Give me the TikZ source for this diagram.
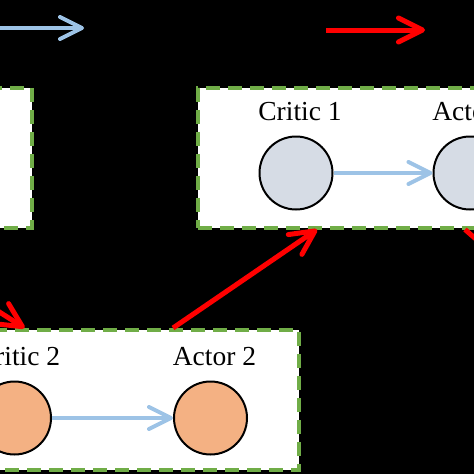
\documentclass[tikz,border=0pt]{standalone}
\usepackage{fontspec}
\setmainfont{Liberation Serif}
\usetikzlibrary{positioning, arrows.meta, calc}

\definecolor{groupgreen}{HTML}{70AD47}
\definecolor{flowblue}{HTML}{9DC3E6}
\definecolor{unitgray}{HTML}{D6DCE5}
\definecolor{unitorange}{HTML}{F4B183}

\begin{document}
\begin{tikzpicture}[x=1pt, y=-1pt,
        % Define styles for groups, agents and flows
        group/.style={draw=groupgreen, line width=4pt, dash pattern=on 14pt off 8pt, fill=white, rectangle, minimum height=140pt, inner sep=0pt},
        agent/.style={draw, line width=2pt, circle, minimum size=73pt, inner sep=0pt},
        agentone/.style={agent, fill=unitgray},
        agenttwo/.style={agent, fill=unitorange},
        tag/.style={font=\fontsize{27.5}{30}\selectfont, inner sep=0pt, text depth=0pt, xshift=4pt},
        innerflow/.style={draw=flowblue, line width=4pt, -{Straight Barb[length=22pt, width=22pt, round]}},
        outerflow/.style={draw=red, line width=5pt, -{Straight Barb[length=24pt, width=24pt, round]}}
    ]

    \useasboundingbox (0,0) rectangle (474,474);
    \clip (0,0) rectangle (474,474);
    \fill[black] (0,0) rectangle (474,474);

    % --- LEGEND ---
    \coordinate (keyAstart) at (-10,28);
    \coordinate (keyAend) at (84,28);
    \coordinate (keyBstart) at (326,30);
    \coordinate (keyBend) at (425,30);
    \draw[innerflow] (keyAstart) -- (keyAend);
    \draw[outerflow] (keyBstart) -- (keyBend);

    % --- GROUPS ---
    \node[group, minimum width=160pt] (leftbox) at (-48,157.5) {};
    \node[group, minimum width=370pt] (topbox) at (383,157.5) {};
    \node[group, minimum width=382pt] (botbox) at (108,400) {};

    % --- AGENTS ---
    % Group 1
    \node[agentone] (critA) at (296,173) {};
    \node[agentone, right=99pt of critA] (actA) {};
    \node[tag, above=15pt of critA] (critAtag) {Critic 1};
    \node[tag, above=15pt of actA] (actAtag) {Actor 1};

    % Group 2
    \node[agenttwo] (actB) at (210.5,418) {};
    \node[agenttwo, left=121pt of actB] (critB) {};
    \node[tag, above=15pt of critB] (critBtag) {Critic 2};
    \node[tag, above=15pt of actB] (actBtag) {Actor 2};

    % --- CONNECTIONS ---
    % Critic to Actor inside each group
    \draw[innerflow] (critA) -- (actA);
    \draw[innerflow] (critB) -- (actB);

    % Between groups
    \coordinate (linkout) at (botbox.north -| actB.west);
    \coordinate (linkin) at ($(topbox.south -| critA)+(21,0)$);
    \draw[outerflow] (linkout) -- (linkin);

    \coordinate (leftin) at ($(botbox.north -| critB)+(10,0)$);
    \draw[outerflow] (leftbox.south west) -- (leftin);

    \coordinate (rightout) at ($(topbox.south -| actA)+(-5,0)$);
    \coordinate (rightend) at (580,330);
    \draw[outerflow] (rightout) -- (rightend);

\end{tikzpicture}
\end{document}
